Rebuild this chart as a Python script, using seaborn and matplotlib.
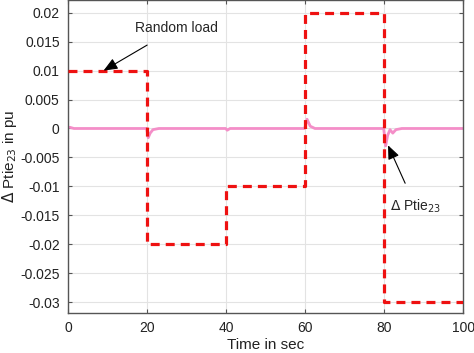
import numpy as np
import pandas as pd
import matplotlib.pyplot as plt
import seaborn as sns

# random load step (pu)
load_t = [0, 20, 20, 40, 40, 60, 60, 80, 80, 100]
load_v = [0.01, 0.01, -0.02, -0.02, -0.01, -0.01, 0.02, 0.02, -0.03, -0.03]

# tie-line power deviation response
ptie_t = [0, 0.5, 1.5, 19.9, 20.3, 20.8, 21.5, 23, 39.9, 40.3, 41, 59.9, 60.5,
          61.3, 62.5, 79.9, 80.4, 80.9, 81.5, 82.2, 83, 84.5, 100]
ptie_v = [0.0002, 0.0002, 0.0, 0.0, -0.0016, -0.0008, -0.0002, 0.0, 0.0, -0.0003,
          0.0, 0.0, 0.0016, 0.0004, 0.0, 0.0, -0.0030, -0.0012, -0.0002, -0.0008,
          -0.0002, 0.0, 0.0]

yticks = [-0.03, -0.025, -0.02, -0.015, -0.01, -0.005, 0, 0.005, 0.01, 0.015, 0.02]
yticklabels = ["-0.03", "-0.025", "-0.02", "-0.015", "-0.01", "-0.005", "0",
               "0.005", "0.01", "0.015", "0.02"]
xticks = [0, 20, 40, 60, 80, 100]

sns.set_style("whitegrid")
plt.rcParams["font.family"] = ["Liberation Sans", "DejaVu Sans"]

fig = plt.figure(figsize=(4.74, 3.53), dpi=100)
ax = fig.add_axes([0.1435, 0.113, 0.8335, 0.887])

sns.lineplot(x=ptie_t, y=ptie_v, ax=ax, color="#f48ec8", linewidth=2,
             estimator=None, sort=False, zorder=2)
sns.lineplot(x=load_t, y=load_v, ax=ax, color="#ee1111", linewidth=2.3,
             estimator=None, sort=False, zorder=3)
ax.lines[-1].set_dashes([2.8, 1.9])

ax.set_xlim(0, 100)
ax.set_ylim(-0.0319, 0.0222)
ax.set_xticks(xticks)
ax.set_xticklabels([str(x) for x in xticks], fontsize=10)
ax.set_yticks(yticks)
ax.set_yticklabels(yticklabels, fontsize=10)
ax.grid(True, color="#e3e3e3", linewidth=0.8)
for s in ax.spines.values():
    s.set_color("#555555")
    s.set_linewidth(1.0)
ax.tick_params(direction="in", length=3, color="#555555", labelcolor="#222222",
               right=True, top=True, left=True, bottom=True, pad=6)
ax.set_xlabel("Time in sec", fontsize=11, color="#222222", labelpad=2)
ax.set_ylabel(r"$\Delta$ Ptie$_{23}$ in pu", fontsize=11, color="#222222", labelpad=1)

ax.annotate("Random load", xy=(9.0, 0.0100), xytext=(27.5, 0.0174),
            fontsize=10, ha="center", va="center",
            arrowprops=dict(arrowstyle="-|>,head_length=0.6,head_width=0.25",
                            color="black", lw=0.8,
                            mutation_scale=14, shrinkA=10, shrinkB=0))
ax.annotate(r"$\Delta$ Ptie$_{23}$", xy=(81.0, -0.0029), xytext=(88, -0.0135),
            fontsize=10, ha="center", va="center",
            arrowprops=dict(arrowstyle="-|>,head_length=0.6,head_width=0.25",
                            color="black", lw=0.8,
                            mutation_scale=14, shrinkA=9, shrinkB=0))

fig.savefig("out.png", dpi=100)
